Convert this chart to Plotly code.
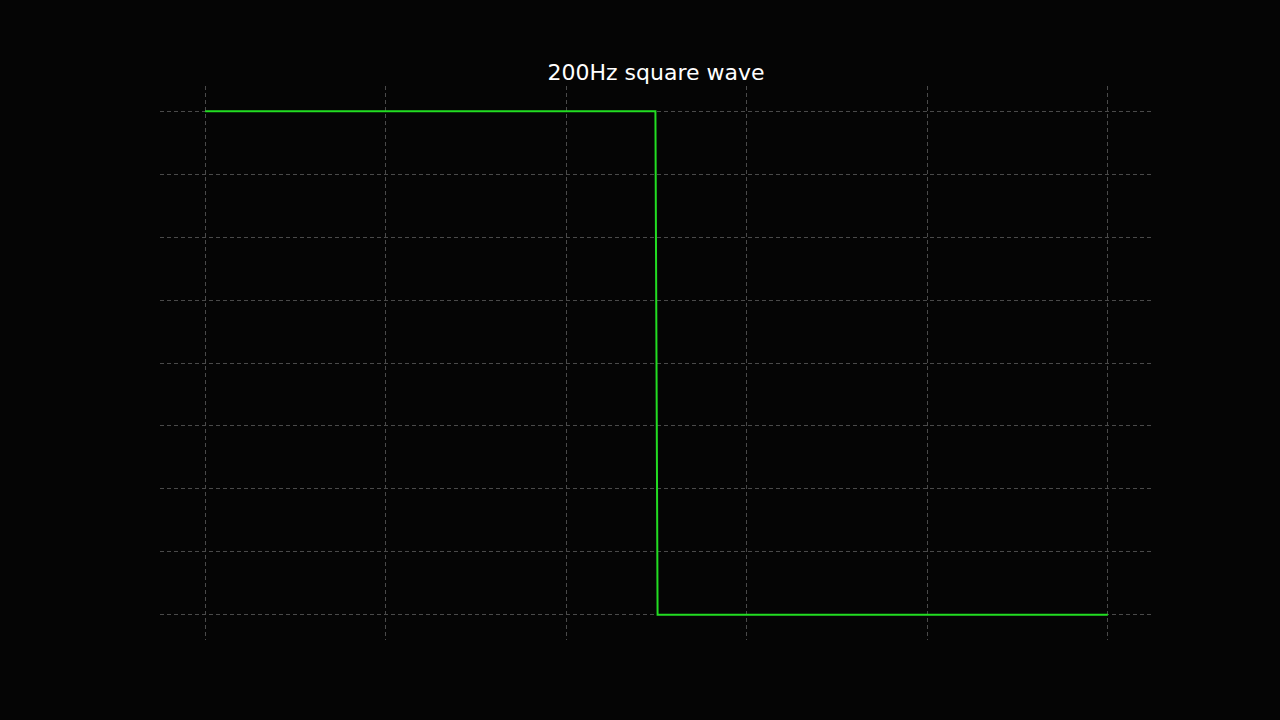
import plotly.graph_objects as go

# Square wave samples (time in ms, amplitude)
time_ms = [0.0, 2.494, 2.506, 5.0]
amplitude = [1.0, 1.0, -1.0, -1.0]

x_ticks = [0, 1, 2, 3, 4, 5]
y_ticks = [-1, -0.75, -0.5, -0.25, 0, 0.25, 0.5, 0.75, 1]

fig = go.Figure()
fig.add_trace(go.Scatter(
    x=time_ms, y=amplitude, mode="lines",
    line=dict(color="#22dd22", width=2),
    showlegend=False, hoverinfo="skip",
))

grid = dict(
    showgrid=True, gridcolor="#4a4a4a", gridwidth=1, griddash="4px,3px",
    zeroline=False, showticklabels=False, ticks="", showline=False,
)

fig.update_layout(
    width=1280, height=720,
    paper_bgcolor="#050505", plot_bgcolor="#050505",
    margin=dict(l=160, r=127, t=86, b=80),
    title=dict(text="200Hz square wave", x=0.5125, xanchor="center",
               y=1 - 72 / 720, yanchor="middle",
               font=dict(family="DejaVu Sans", size=22, color="#ffffff")),
    xaxis=dict(range=[-0.25, 5.25], tickvals=x_ticks, **grid),
    yaxis=dict(range=[-1.1, 1.1], tickvals=y_ticks, **grid),
)

fig.write_html(
    "out.html",
    config={"displayModeBar": False},
    post_script="document.body.style.margin='0';document.body.style.background='#050505';",
)
